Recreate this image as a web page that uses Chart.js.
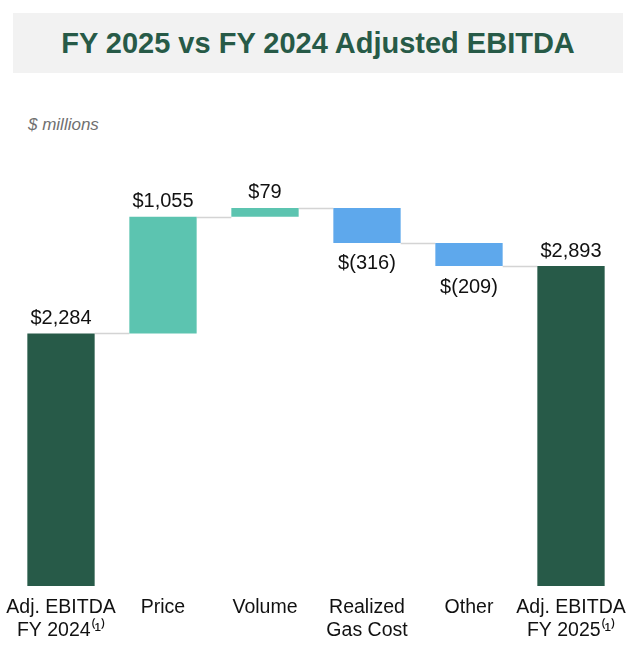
<!DOCTYPE html>
<html>
<head>
<meta charset="utf-8">
<script src="https://cdn.jsdelivr.net/npm/chart.js@4"></script>
<style>
  html, body { margin: 0; padding: 0; background: #fff; }
  body { width: 640px; height: 658px; position: relative; overflow: hidden; font-family: "Liberation Sans", Arial, sans-serif; }
  #title-box {
    position: absolute; left: 13px; top: 13px; width: 610px; height: 60px;
    background: #f2f2f2; color: #275a47; font-weight: bold; font-size: 29px;
    display: flex; align-items: center; justify-content: center;
  }
  #unit { position: absolute; left: 28px; top: 115px; font-size: 17px; font-style: italic; color: #707070; }
  #wrap { position: absolute; left: 0; top: 0; width: 640px; height: 658px; }
</style>
</head>
<body>
<div id="title-box">FY 2025 vs FY 2024 Adjusted EBITDA</div>
<div id="unit">$ millions</div>
<div id="wrap"><canvas id="chart"></canvas></div>
<script>
// 瀑布圖：起點、各項增減、終點
const CATEGORIES = [
  ['Adj. EBITDA', 'FY 2024\u207D\u00B9\u207E'],
  'Price',
  'Volume',
  ['Realized', 'Gas Cost'],
  'Other',
  ['Adj. EBITDA', 'FY 2025\u207D\u00B9\u207E'],
]
// 'total' = 從 0 起算，'delta' = 接續前一根
const KINDS = ['total', 'delta', 'delta', 'delta', 'delta', 'total']
const VALUES = [2284, 1055, 79, -316, -209, 2893]
const LABELS = ['$2,284', '$1,055', '$79', '$(316)', '$(209)', '$2,893']

const DARK = '#275a48'
const UP = '#5cc4b0'
const DOWN = '#5ea8ec'

// floating bar ranges
let running = 0
const ranges = VALUES.map((v, i) => {
  if (KINDS[i] === 'total') { running = v; return [0, v] }
  const start = running
  running += v
  return [start, running]
})
const colors = VALUES.map((v, i) => KINDS[i] === 'total' ? DARK : (v >= 0 ? UP : DOWN))

const connectorPlugin = {
  id: 'connectors',
  beforeDatasetsDraw(chart) {
    const { ctx, scales: { y } } = chart
    const bars = chart.getDatasetMeta(0).data
    ctx.save()
    ctx.strokeStyle = '#d4d4d4'
    ctx.lineWidth = 1.5
    for (let i = 0; i < bars.length - 1; i++) {
      const yy = Math.round(y.getPixelForValue(ranges[i][1])) + 0.5
      ctx.beginPath()
      ctx.moveTo(bars[i].x + bars[i].width / 2, yy)
      ctx.lineTo(bars[i + 1].x - bars[i + 1].width / 2, yy)
      ctx.stroke()
    }
    ctx.restore()
  },
}

const valueLabelPlugin = {
  id: 'valueLabels',
  afterDatasetsDraw(chart) {
    const { ctx, scales: { y } } = chart
    const bars = chart.getDatasetMeta(0).data
    ctx.save()
    ctx.font = '20px "Liberation Sans", Arial, sans-serif'
    ctx.fillStyle = '#111'
    ctx.textAlign = 'center'
    bars.forEach((bar, i) => {
      const [a, b] = ranges[i]
      if (VALUES[i] < 0) {
        ctx.textBaseline = 'top'
        ctx.fillText(LABELS[i], bar.x, y.getPixelForValue(Math.min(a, b)) + 11)
      } else {
        ctx.textBaseline = 'bottom'
        ctx.fillText(LABELS[i], bar.x, y.getPixelForValue(Math.max(a, b)) - 5)
      }
    })
    ctx.restore()
  },
}

new Chart(document.getElementById('chart'), {
  type: 'bar',
  data: {
    labels: CATEGORIES,
    datasets: [{
      data: ranges,
      backgroundColor: colors,
      borderWidth: 0,
      barPercentage: 0.66,
      categoryPercentage: 1,
      grouped: false,
    }],
  },
  options: {
    responsive: true,
    maintainAspectRatio: false,
    animation: false,
    layout: { padding: { left: 10, right: 18, top: 150, bottom: 0 } },
    plugins: { legend: { display: false }, tooltip: { enabled: false } },
    scales: {
      x: {
        grid: { display: false, drawTicks: false },
        border: { display: false },
        ticks: {
          color: '#111',
          padding: 10,
          maxRotation: 0,
          autoSkip: false,
          font: { size: 19.5, family: '"Liberation Sans", Arial, sans-serif', lineHeight: 1.18 },
        },
        afterFit(scale) {
          scale.height = 72
          scale.paddingLeft = 0
          scale.paddingRight = 0
        },
      },
      y: {
        display: false,
        min: 0,
        max: 3942,
      },
    },
  },
  plugins: [connectorPlugin, valueLabelPlugin],
})
</script>
</body>
</html>
